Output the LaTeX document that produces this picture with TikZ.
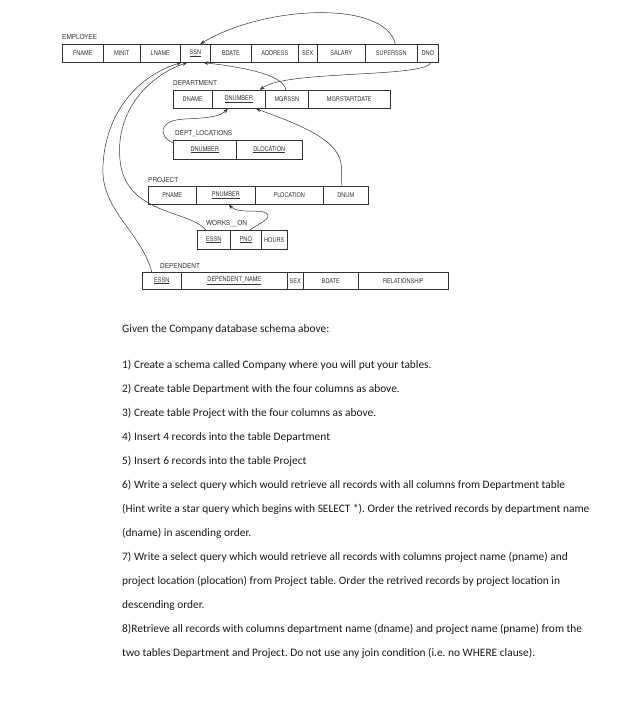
\documentclass[tikz,border=0pt]{standalone}
\usepackage{fontspec}
\setmainfont{Carlito}
\newfontfamily\diagfont[FakeStretch=0.86]{TeX Gyre Heros}
\newfontfamily\labfont[FakeStretch=0.95]{TeX Gyre Heros}
\usetikzlibrary{arrows.meta}
\definecolor{ink}{HTML}{333333}
\definecolor{txt}{HTML}{1A1A1A}
\frenchspacing
\tikzset{
  cell/.style={draw=ink, line width=0.6pt, inner sep=0pt, anchor=north west,
    font=\diagfont\fontsize{6.5}{7}\selectfont, text=ink},
  tlabel/.style={anchor=base west, inner sep=0pt,
    font=\labfont\fontsize{6.8}{7}\selectfont, text=ink},
  fk/.style={draw=ink, line width=0.5pt, -{Stealth[length=5pt,width=3.6pt]}},
  bodyline/.style={anchor=base west, inner sep=0pt,
    font=\fontsize{11.4}{13}\selectfont, text=txt}
}
\newcommand{\mkcell}[6]{% name, x1, x2, ytop, ybot, text
  \pgfmathsetmacro{\cw}{#3-#2}\pgfmathsetmacro{\ch}{#5-#4}%
  \node[cell, minimum width=\cw pt, minimum height=\ch pt] (#1) at (#2,#4) {#6};}
\begin{document}
\begin{tikzpicture}[x=1pt,y=-1pt]
\useasboundingbox (0,0) rectangle (636,714);
\fill[white] (0,0) rectangle (636,714);

% EMPLOYEE
\node[tlabel] (lemp) at (62,39.5) {EMPLOYEE};
\mkcell{fname}{62}{103}{44}{62}{FNAME}
\mkcell{minit}{103}{140}{44}{62}{MINIT}
\mkcell{lname}{140}{180}{44}{62}{LNAME}
\mkcell{ssn}{180}{210}{44}{62}{\underline{SSN}}
\mkcell{bdate}{210}{251}{44}{62}{BDATE}
\mkcell{address}{251}{298}{44}{62}{ADDRESS}
\mkcell{sex}{298}{317}{44}{62}{SEX}
\mkcell{salary}{317}{365}{44}{62}{SALARY}
\mkcell{superssn}{365}{417}{44}{62}{SUPERSSN}
\mkcell{dno}{417}{438}{44}{62}{DNO}

% DEPARTMENT
\node[tlabel] (ldept) at (173,85.5) {DEPARTMENT};
\mkcell{dname}{173}{212}{90}{108}{DNAME}
\mkcell{dnumber}{212}{265}{90}{108}{\underline{DNUMBER}}
\mkcell{mgrssn}{265}{308}{90}{108}{MGRSSN}
\mkcell{mgrstart}{308}{390}{90}{108}{MGRSTARTDATE}

% DEPT_LOCATIONS
\node[tlabel] (ldl) at (175,135.5) {DEPT\_LOCATIONS};
\mkcell{dlnum}{173}{236}{140}{159}{\underline{DNUMBER}}
\mkcell{dlloc}{236}{302}{140}{159}{\underline{DLOCATION}}

% PROJECT
\node[tlabel] (lproj) at (148,182.5) {PROJECT};
\mkcell{pname}{148}{196}{186}{204}{PNAME}
\mkcell{pnumber}{196}{255}{186}{204}{\underline{PNUMBER}}
\mkcell{plocation}{255}{323}{186}{204}{PLOCATION}
\mkcell{dnum}{323}{368}{186}{204}{DNUM}

% WORKS_ON
\node[tlabel] (lwo) at (206,225.5) {WORKS\_\_ON};
\mkcell{wessn}{197}{230}{230}{249}{\underline{ESSN}}
\mkcell{pno}{230}{261}{230}{249}{\underline{PNO}}
\mkcell{hours}{261}{287}{230}{249}{HOURS}

% DEPENDENT
\node[tlabel] (ldep) at (160,268.5) {DEPENDENT};
\mkcell{dessn}{142}{181}{272}{289}{\underline{ESSN}}
\mkcell{depname}{181}{287}{272}{289}{\underline{DEPENDENT\_NAME}}
\mkcell{dsex}{287}{303}{272}{289}{SEX}
\mkcell{dbdate}{303}{358}{272}{289}{BDATE}
\mkcell{relation}{358}{448}{272}{289}{RELATIONSHIP}

% foreign keys
\draw[fk] ([xshift=4pt]superssn.north) .. controls (385,0) and (265,5) .. ([xshift=5pt]ssn.north);
\draw[fk] ([xshift=3pt]dno.south) .. controls (425,78) and (285,70) .. ([xshift=21pt]dnumber.north);
\draw[fk] ([xshift=-1pt]mgrssn.north) .. controls (284,76) and (250,68) .. ([xshift=8pt]ssn.south);
\draw[fk] ([yshift=-3pt]dlnum.north west) .. controls (158,136) and (158,120) .. (185,119) .. controls (210,118) and (221,116) .. ([xshift=-11pt]dnumber.south);
\draw[fk] ([xshift=-4pt]dnum.north) -- (341.5,168) .. controls (341.5,140) and (300,125) .. ([xshift=17pt]dnumber.south);
\draw[fk] ([xshift=-8pt]wessn.north) .. controls (190,210) and (125,215) .. (120,160) .. controls (115,110) and (150,75) .. ([xshift=-8pt]ssn.south);
\draw[fk] ([xshift=-10pt]dessn.north) .. controls (140,230) and (100,210) .. (103,165) .. controls (106,110) and (140,75) .. ([xshift=-14pt]ssn.south);
\draw[fk] ([xshift=4pt]pno.north) .. controls (258,224) and (274,218) .. (266,213) .. controls (260,209) and (238,214) .. ([xshift=3pt]pnumber.south);

% text
\node[bodyline] (t0) at (122,332) {Given the Company database schema above:};
\node[bodyline] (t1) at (122,368) {1) Create a schema called Company where you will put your tables.};
\node[bodyline] (t2) at (122,392) {2) Create table Department with the four columns as above.};
\node[bodyline] (t3) at (122,416) {3) Create table Project with the four columns as above.};
\node[bodyline] (t4) at (122,440) {4) Insert 4 records into the table Department};
\node[bodyline] (t5) at (122,464) {5) Insert 6 records into the table Project};
\node[bodyline] (t6) at (122,488) {6) Write a select query which would retrieve all records with all columns from Department table};
\node[bodyline] (t7) at (122,512) {(Hint write a star query which begins with SELECT *). Order the retrived records by department name};
\node[bodyline] (t8) at (122,536) {(dname) in ascending order.};
\node[bodyline] (t9) at (122,560) {7) Write a select query which would retrieve all records with columns project name (pname) and};
\node[bodyline] (t10) at (122,584) {project location (plocation) from Project table. Order the retrived records by project location in};
\node[bodyline] (t11) at (122,608) {descending order.};
\node[bodyline] (t12) at (122,632) {8)Retrieve all records with columns department name (dname) and project name (pname) from the};
\node[bodyline] (t13) at (122,656) {two tables Department and Project. Do not use any join condition (i.e. no WHERE clause).};
\end{tikzpicture}
\end{document}
